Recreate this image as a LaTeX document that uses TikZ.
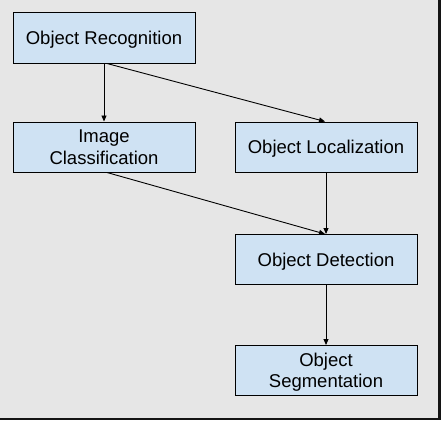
\documentclass[tikz,border=0pt]{standalone}
\usepackage{fontspec}
\setmainfont{Liberation Sans}
\usetikzlibrary{arrows.meta}
\definecolor{bg}{HTML}{E6E6E6}
\definecolor{edge}{HTML}{141414}
\definecolor{boxfill}{HTML}{CFE2F3}
\begin{document}
\begin{tikzpicture}[x=1pt,y=-1pt,
  stepbox/.style={draw=black, line width=1pt, fill=boxfill, minimum width=182pt, minimum height=50pt,
    inner sep=0pt, align=center, text depth=0pt, font=\fontsize{18.5}{21.5}\selectfont},
  conn/.style={draw=black, line width=0.9pt, -{Triangle[length=6pt,width=5pt]}}]
\fill[edge] (0,0) rectangle (441,420);
\fill[bg] (0,0) rectangle (438.3,418.3);
\useasboundingbox (0,0) rectangle (441,420);
\node[stepbox] (or) at (104,38) {Object Recognition};
\node[stepbox] (ic) at (104,147) {Image\\Classification};
\node[stepbox] (ol) at (326,147) {Object Localization};
\node[stepbox] (od) at (326,259.5) {Object Detection};
\node[stepbox] (os) at (326,370.5) {Object\\Segmentation};
\draw[conn] (or.south) -- (ic.north);
\draw[conn] ([xshift=3pt]or.south) -- ([xshift=-1pt]ol.north);
\draw[conn] ([xshift=3pt]ic.south) -- ([xshift=-1pt]od.north);
\draw[conn] (ol.south) -- (od.north);
\draw[conn] (od.south) -- (os.north);
\end{tikzpicture}
\end{document}
